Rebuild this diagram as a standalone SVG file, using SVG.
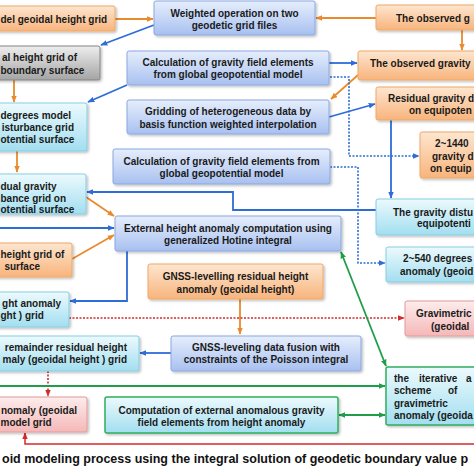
<svg xmlns="http://www.w3.org/2000/svg" width="474" height="474" viewBox="0 0 474 474">
<defs>
<linearGradient id="gO" x1="0" y1="0" x2="0" y2="1"><stop offset="0" stop-color="#fde6d0"/><stop offset="1" stop-color="#f8b47c"/></linearGradient>
<linearGradient id="gB" x1="0" y1="0" x2="0" y2="1"><stop offset="0" stop-color="#e6eefc"/><stop offset="1" stop-color="#a8c0f0"/></linearGradient>
<linearGradient id="gC" x1="0" y1="0" x2="0" y2="1"><stop offset="0" stop-color="#ecfafd"/><stop offset="1" stop-color="#a2def0"/></linearGradient>
<linearGradient id="gG" x1="0" y1="0" x2="0" y2="1"><stop offset="0" stop-color="#eeeeee"/><stop offset="1" stop-color="#a4a4a4"/></linearGradient>
<linearGradient id="gP" x1="0" y1="0" x2="0" y2="1"><stop offset="0" stop-color="#fdecec"/><stop offset="1" stop-color="#f5b8b8"/></linearGradient>
<filter id="sh" x="-10%" y="-10%" width="130%" height="140%"><feDropShadow dx="1.5" dy="1.5" stdDeviation="1" flood-color="#000" flood-opacity="0.25"/></filter>
<marker id="aB" viewBox="0 0 10 10" refX="9" refY="5" markerWidth="7" markerHeight="7" orient="auto-start-reverse" markerUnits="userSpaceOnUse"><path d="M0,1 L10,5 L0,9 z" fill="#2e6cd8"/></marker>
<marker id="aO" viewBox="0 0 10 10" refX="9" refY="5" markerWidth="7" markerHeight="7" orient="auto-start-reverse" markerUnits="userSpaceOnUse"><path d="M0,1 L10,5 L0,9 z" fill="#ea8a2c"/></marker>
<marker id="aG" viewBox="0 0 10 10" refX="9" refY="5" markerWidth="7" markerHeight="7" orient="auto-start-reverse" markerUnits="userSpaceOnUse"><path d="M0,1 L10,5 L0,9 z" fill="#1f9e4a"/></marker>
<marker id="aR" viewBox="0 0 10 10" refX="9" refY="5" markerWidth="7" markerHeight="7" orient="auto-start-reverse" markerUnits="userSpaceOnUse"><path d="M0,1 L10,5 L0,9 z" fill="#d42a2a"/></marker>
</defs>
<style>
.b rect{stroke-width:1;filter:url(#sh)}
.o rect{fill:url(#gO);stroke:#f0a868}
.bl rect{fill:url(#gB);stroke:#8aa8e0}
.c rect{fill:url(#gC);stroke:#86cde3}
.g rect{fill:url(#gG);stroke:#858585}
.p rect{fill:url(#gP);stroke:#e29a9a}
.cg rect{fill:url(#gC);stroke:#2fae5e;stroke-width:1.5}
text{font-family:"Liberation Sans",Arial,sans-serif;font-weight:bold;font-size:10px;fill:#1a1a1a}
.m{text-anchor:middle}
.e{text-anchor:end}
.ln{fill:none;stroke-width:1.8}
.lb{stroke:#2e6cd8;marker-end:url(#aB)}
.lo{stroke:#ea8a2c;marker-end:url(#aO)}
.lg{stroke:#1f9e4a;marker-end:url(#aG)}
.lr{stroke:#d42a2a;marker-end:url(#aR)}
.dt{stroke-dasharray:2 1.5;stroke-width:1.6}
.cap{font-size:12.5px;fill:#111}
</style>
<rect width="474" height="474" fill="#fff"/>
<g id="connectors">
<path class="ln lo" d="M115,19 L153,19"/>
<path class="ln lo" d="M376,18 L316,18"/>
<path class="ln lb" d="M154,25 L101,45"/>
<path class="ln lo" d="M14,80 L14,102"/>
<path class="ln lb" d="M127,85 L88,102"/>
<path class="ln lo" d="M462,30 L462,50"/>
<path class="ln lb" d="M329,63 L357,63"/>
<path class="ln lo" d="M358,75 L331,99"/>
<path class="ln lb" d="M329,117 L375,104"/>
<path class="ln lb dt" d="M330,77 H349 V156 H419"/>
<path class="ln lb" d="M391,120 V198"/>
<path class="ln lo" d="M17,151 V172"/>
<path class="ln lb" d="M376,210 H233 V192 H87"/>
<path class="ln lo" d="M86,197 L114,216"/>
<path class="ln lb" d="M0,228 H114"/>
<path class="ln lo" d="M72,259 L114,235"/>
<path class="ln lb" d="M127,251 V301 H70"/>
<path class="ln lb dt" d="M330,167 H358 V263 H385"/>
<path class="ln lo" d="M240,299 V334"/>
<path class="ln lr dt" d="M69,318 H404"/>
<path class="ln lb" d="M171,353 H140"/>
<path class="ln lr dt" d="M48,371 V396"/>
<path class="ln lg" d="M0,386 H385"/>
<path class="ln lg" style="marker-start:url(#aG)" d="M339,415 H385"/>
<path class="ln lg" style="marker-start:url(#aG)" d="M341,252 L386,366"/>
<path class="ln lr" style="stroke-width:1.5" d="M474,444 H25 V433"/>
</g>
<g id="n1" class="b o"><rect x="-10" y="6" width="125" height="25" rx="2"/><text x="0.5" y="22.5">del geoidal height grid</text></g>
<g id="n2" class="b bl"><rect x="154" y="1" width="161" height="34" rx="2"/><text class="m" x="234.5" y="16.5">Weighted operation on two</text><text class="m" x="234.5" y="28.5">geodetic grid files</text></g>
<g id="n3" class="b o"><rect x="376" y="5" width="110" height="25" rx="2"/><text x="396" y="21.5">The observed g</text></g>
<g id="n4" class="b g"><rect x="-10" y="46" width="110" height="34" rx="2"/><text class="e" x="77" y="60.5">al height grid of</text><text x="0.5" y="73.5">boundary surface</text></g>
<g id="n5" class="b bl"><rect x="127" y="51" width="202" height="34" rx="2"/><text class="m" x="228" y="66">Calculation of gravity field elements</text><text class="m" x="228" y="78">from global geopotential model</text></g>
<g id="n6" class="b o"><rect x="358" y="51" width="130" height="29" rx="2"/><text x="370" y="66.5">The observed gravity</text></g>
<g id="n7" class="b c"><rect x="-10" y="103" width="97" height="48" rx="2"/><text x="0.5" y="118.5">degrees model</text><text class="e" x="74" y="130.5">isturbance grid</text><text x="0.5" y="142.5">otential surface</text></g>
<g id="n8" class="b bl"><rect x="127" y="100" width="202" height="34" rx="2"/><text class="m" x="228" y="114.5">Gridding of heterogeneous data by</text><text class="m" x="228" y="127.5">basis function weighted interpolation</text></g>
<g id="n9" class="b o"><rect x="376" y="87" width="110" height="33" rx="2"/><text x="388" y="101.5">Residual gravity d</text><text x="409" y="113.5">on equipoten</text></g>
<g id="n10" class="b bl"><rect x="113" y="149" width="217" height="35" rx="2"/><text class="m" x="221.5" y="165">Calculation of gravity field elements from</text><text class="m" x="221.5" y="177">global geopotential model</text></g>
<g id="n11" class="b o"><rect x="420" y="132" width="70" height="46" rx="2"/><text x="435" y="146.5">2~1440</text><text x="432" y="159.5">gravity d</text><text x="430" y="171.5">on equip</text></g>
<g id="n12" class="b c"><rect x="-10" y="174" width="96" height="40" rx="2"/><text x="0.5" y="189.5">dual gravity</text><text x="0.5" y="201.5">bance grid on</text><text x="0.5" y="212.5">otential surface</text></g>
<g id="n13" class="b c"><rect x="376" y="199" width="110" height="36" rx="2"/><text x="393" y="215.5">The gravity distu</text><text x="417" y="227">equipotenti</text></g>
<g id="n14" class="b bl"><rect x="115" y="216" width="226" height="35" rx="2"/><text class="m" x="228" y="231.5">External height anomaly computation using</text><text class="m" x="228" y="243.5">generalized Hotine integral</text></g>
<g id="n15" class="b o"><rect x="-10" y="243" width="82" height="34" rx="2"/><text x="0.5" y="257.5">height grid of</text><text class="e" x="40" y="269.5">surface</text></g>
<g id="n16" class="b o"><rect x="148" y="264" width="175" height="35" rx="2"/><text class="m" x="235.5" y="279.5">GNSS-levelling residual height</text><text class="m" x="235.5" y="292.5">anomaly (geoidal height)</text></g>
<g id="n17" class="b c"><rect x="386" y="247" width="100" height="35" rx="2"/><text x="403" y="261.5">2~540 degrees</text><text x="400" y="274.5">anomaly (geoid</text></g>
<g id="n18" class="b c"><rect x="-10" y="292" width="79" height="35" rx="2"/><text class="e" x="61" y="307">ght anomaly</text><text x="0.5" y="319">ght ) grid</text></g>
<g id="n19" class="b p"><rect x="405" y="301" width="80" height="35" rx="2"/><text x="416" y="316.5">Gravimetric</text><text x="431" y="329.5">(geoidal</text></g>
<g id="n20" class="b c"><rect x="-10" y="336" width="149" height="35" rx="2"/><text class="e" x="127" y="350.5">remainder residual height</text><text class="e" x="127" y="363">maly (geoidal height ) grid</text></g>
<g id="n21" class="b bl"><rect x="171" y="336" width="190" height="35" rx="2"/><text class="m" x="266" y="350.5">GNSS-leveling data fusion with</text><text class="m" x="266" y="363">constraints of the Poisson integral</text></g>
<g id="n22" class="b p"><rect x="-10" y="397" width="97" height="35" rx="2"/><text class="e" x="77" y="413.5">nomaly (geoidal</text><text x="0.5" y="425.5">model grid</text></g>
<g id="n23" class="b cg"><rect x="105" y="397" width="233" height="36" rx="2"/><text class="m" x="221.5" y="413.5">Computation of external anomalous gravity</text><text class="m" x="221.5" y="425.5">field elements from height anomaly</text></g>
<g id="n24" class="b cg"><rect x="386" y="367" width="100" height="58" rx="2"/><text y="381.5"><tspan x="394">the</tspan><tspan x="419">iterative</tspan><tspan x="466">a</tspan></text><text y="394"><tspan x="394">scheme</tspan><tspan x="448">of</tspan></text><text x="394" y="406.5">gravimetric</text><text x="394" y="418.5">anomaly (geoida</text></g>
<text class="cap" x="2" y="463">oid modeling process using the integral solution of geodetic boundary value p</text>
</svg>
